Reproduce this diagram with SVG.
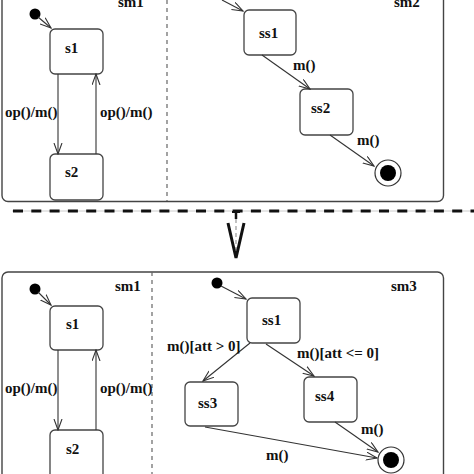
<svg xmlns="http://www.w3.org/2000/svg" width="474" height="474" viewBox="0 0 474 474">
<defs>
<marker id="open" markerUnits="userSpaceOnUse" markerWidth="12" markerHeight="10" refX="11" refY="4.5" orient="auto">
<path d="M0,0.5 L11,4.5 L0,8.5" fill="none" stroke="#333" stroke-width="1.1"/>
</marker>
</defs>
<style>
.cont{fill:#fff;stroke:#444;stroke-width:1.4}
.st{fill:#fff;stroke:#444;stroke-width:1.3}
.div{stroke:#666;stroke-width:1.2;stroke-dasharray:4 4;fill:none}
.tr{stroke:#333;stroke-width:1.1;fill:none;marker-end:url(#open)}
text{font-family:"Liberation Serif","Times New Roman",serif;font-weight:bold;font-size:15px;fill:#111}
.init{fill:#000}
</style>
<rect x="0" y="0" width="474" height="474" fill="#fff"/>
<g id="top-container">
<rect class="cont" x="2" y="-20" width="441.5" height="221.5" rx="6"/>
<line class="div" x1="167" y1="0" x2="167" y2="201"/>
<text x="118" y="7">sm1</text>
<text x="394" y="7">sm2</text>
</g>
<g id="top-sm1-init"><circle class="init" cx="35" cy="14" r="5.5"/></g>
<g id="top-s1"><rect class="st" x="50" y="29" width="53" height="45" rx="5"/><text x="65" y="53">s1</text></g>
<g id="top-s2"><rect class="st" x="50" y="154" width="53" height="46" rx="5"/><text x="65" y="177">s2</text></g>
<g id="top-ss1"><rect class="st" x="244" y="10" width="52" height="45" rx="5"/><text x="259" y="38">ss1</text></g>
<g id="top-ss2"><rect class="st" x="300" y="89" width="53" height="46" rx="5"/><text x="311" y="113">ss2</text></g>
<g id="top-final"><circle cx="388" cy="173" r="13" fill="#fff" stroke="#333" stroke-width="1.2"/><circle cx="388" cy="173" r="8" fill="#000"/></g>

<g id="bottom-container">
<rect class="cont" x="2" y="272" width="441.5" height="230" rx="6"/>
<line class="div" x1="152" y1="272" x2="152" y2="474"/>
<text x="115" y="291">sm1</text>
<text x="391" y="291">sm3</text>
</g>
<g id="bot-sm1-init"><circle class="init" cx="35" cy="289" r="5.5"/></g>
<g id="bot-sm3-init"><circle class="init" cx="217" cy="283" r="5.5"/></g>
<g id="bot-s1"><rect class="st" x="50" y="306" width="53" height="44" rx="5"/><text x="66" y="329">s1</text></g>
<g id="bot-s2"><rect class="st" x="50" y="430" width="53" height="60" rx="5"/><text x="66" y="454">s2</text></g>
<g id="bot-ss1"><rect class="st" x="247" y="298" width="53" height="45" rx="5"/><text x="262" y="325">ss1</text></g>
<g id="bot-ss3"><rect class="st" x="185" y="382" width="53" height="44" rx="5"/><text x="198" y="408">ss3</text></g>
<g id="bot-ss4"><rect class="st" x="304" y="377" width="53" height="45" rx="5"/><text x="315" y="401">ss4</text></g>
<g id="bot-final"><circle cx="391" cy="460" r="13" fill="#fff" stroke="#333" stroke-width="1.2"/><circle cx="391" cy="460" r="8" fill="#000"/></g>

<g id="connectors">
<line class="tr" x1="38" y1="17" x2="51" y2="28"/>
<line class="tr" x1="58" y1="74" x2="58" y2="154"/>
<line class="tr" x1="96" y1="154" x2="96" y2="74"/>
<line class="tr" x1="222" y1="0" x2="243" y2="11"/>
<line class="tr" x1="262" y1="55" x2="310" y2="89"/>
<line class="tr" x1="330" y1="135" x2="374" y2="166"/>

<line class="tr" x1="38" y1="292" x2="51" y2="305"/>
<line class="tr" x1="58" y1="350" x2="58" y2="430"/>
<line class="tr" x1="96" y1="430" x2="96" y2="350"/>
<line class="tr" x1="221" y1="286" x2="246" y2="299"/>
<line class="tr" x1="250" y1="343" x2="203" y2="381"/>
<line class="tr" x1="266" y1="344" x2="314" y2="376"/>
<line class="tr" x1="335" y1="422" x2="378" y2="452"/>
<line class="tr" x1="205" y1="427" x2="377" y2="458"/>

<g id="refinement">
<line x1="12" y1="211" x2="474" y2="211" stroke="#ccc" stroke-width="1"/>
<line x1="13" y1="211" x2="474" y2="211" stroke="#111" stroke-width="3.2" stroke-dasharray="10 8.3"/>
<line x1="232" y1="212" x2="240" y2="212" stroke="#111" stroke-width="2"/>
<line x1="236" y1="212" x2="236" y2="219" stroke="#111" stroke-width="2.5"/>
<line x1="236" y1="219" x2="236" y2="250" stroke="#999" stroke-width="1.2" stroke-dasharray="4 3"/>
<polyline points="228,223 236,258 244,223" fill="none" stroke="#111" stroke-width="3"/>
</g>
</g>

<g id="labels">
<text x="5" y="117">op()/m()</text>
<text x="100" y="117">op()/m()</text>
<text x="293" y="70">m()</text>
<text x="357" y="145">m()</text>
<text x="5" y="393">op()/m()</text>
<text x="100" y="393">op()/m()</text>
<text x="167" y="351">m()[att &gt; 0]</text>
<text x="297" y="358">m()[att &lt;= 0]</text>
<text x="361" y="434">m()</text>
<text x="266" y="460">m()</text>
</g>
</svg>
